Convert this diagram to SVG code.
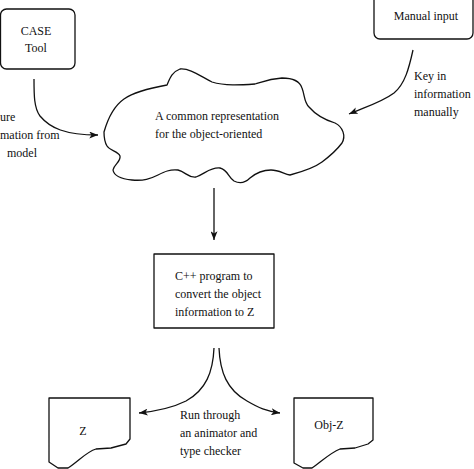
<svg xmlns="http://www.w3.org/2000/svg" width="474" height="469" viewBox="0 0 474 469">
<style>
text{font-family:"Liberation Serif","Times New Roman",serif;font-size:12px;fill:#111}
.s{fill:none;stroke:#111;stroke-width:1.3;stroke-linejoin:round}
.c{fill:none;stroke:#111;stroke-width:1.3}
.m{text-anchor:middle}
</style>
<defs>
<marker id="ah" viewBox="0 0 10 8" refX="10" refY="4" markerWidth="9" markerHeight="7" markerUnits="userSpaceOnUse" orient="auto">
<path d="M0,0 L10,4 L0,8 L2.5,4 Z" fill="#111"/>
</marker>
</defs>
<rect width="474" height="469" fill="#fff"/>
<g id="case-tool">
<rect class="s" x="0.5" y="9" width="74.5" height="60" rx="6"/>
<text class="m" x="36" y="35">CASE</text>
<text class="m" x="36" y="52">Tool</text>
</g>
<g id="manual-input">
<rect class="s" x="374" y="-10" width="99" height="49" rx="6"/>
<text class="m" x="426" y="20">Manual input</text>
</g>
<g id="cloud">
<path class="s" d="M104,132 C108,118 114,106 124,99 C134,92 150,88 167,85 C170,78 172,72 180,69 C190,68 200,76 212,82 C225,86 240,85 255,84 C262,82 268,79 282,78 C295,78 300,82 302,88 C305,96 304,102 309,107 C315,114 322,119 335,123 C343,127 346,136 342,143 C336,151 330,156 322,162 C314,168 305,171 290,175 C284,174 279,170 271,170 C262,170 256,173 250,178 C246,182 240,184 234,181 C228,177 228,170 220,168 C210,167 205,174 196,177 C188,178 186,172 178,170 C170,169 164,172 158,175 C150,179 144,181 132,180 C122,179 114,176 113,170 C114,164 121,162 120,156 C118,151 110,151 107,146 C104,141 104,137 104,132 Z"/>
<text x="155" y="120">A common representation</text>
<text x="155" y="138">for the object-oriented</text>
</g>
<g id="cpp-program">
<rect class="s" x="154" y="254" width="120" height="74"/>
<text x="175" y="280">C++ program to</text>
<text x="175" y="298">convert the object</text>
<text x="175" y="316">information to Z</text>
</g>
<g id="z-doc">
<path class="s" d="M49,398 H130 V439 L126,444 L111,448 L96,449 C86,452 79,461 68,468 L58,468 L49,462 Z"/>
<text class="m" x="83" y="435">Z</text>
</g>
<g id="objz-doc">
<path class="s" d="M294,398 H373 V440 L368,444 L355,448 L340,449 C330,453 322,461 312,468 L303,468 L294,463 Z"/>
<text class="m" x="329" y="429">Obj-Z</text>
</g>
<g id="connectors">
<path class="c" d="M34,79 C34,95 34,108 40,116 C50,128 65,135 98,135" marker-end="url(#ah)"/>
<path class="c" d="M413,50 C409,68 405,84 394,93 C382,102 368,106 349,114" marker-end="url(#ah)"/>
<path class="c" d="M214,188 V240" marker-end="url(#ah)"/>
<path class="c" d="M214,348 C213,372 206,390 186,401 C172,408 158,411 139,413" marker-end="url(#ah)"/>
<path class="c" d="M219,348 C220,372 227,390 247,401 C259,408 266,411 280,413" marker-end="url(#ah)"/>
</g>
<g id="labels">
<text x="0" y="121">ure</text>
<text x="0" y="139">mation from</text>
<text x="7" y="157">model</text>
<text x="414" y="80">Key in</text>
<text x="414" y="98">information</text>
<text x="414" y="116">manually</text>
<text x="180" y="419">Run through</text>
<text x="180" y="437">an animator and</text>
<text x="180" y="455">type checker</text>
</g>
</svg>
